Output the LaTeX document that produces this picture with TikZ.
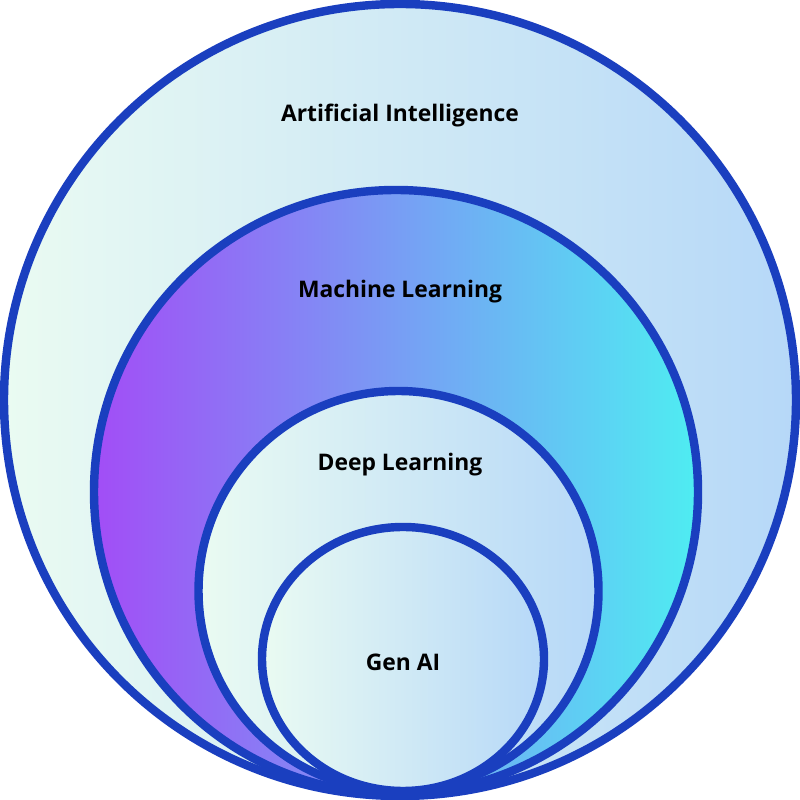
\documentclass[tikz,border=0pt]{standalone}
\usepackage{fontspec}
\usetikzlibrary{shapes.geometric}
\setmainfont{Open Sans}
\definecolor{ring}{HTML}{1A3FBF}
\definecolor{mint}{HTML}{EAFBF2}
\definecolor{lblue}{HTML}{B6D8F8}
\definecolor{mlpurple}{HTML}{A24DF6}
\definecolor{mlcyan}{HTML}{4EEDF2}
\tikzset{
  ringc/.style={ellipse,draw=ring,line width=2.4pt,inner sep=0pt},
  lbl/.style={font=\bfseries\fontsize{6.5pt}{7pt}\selectfont,text=black}
}
\begin{document}
\begin{tikzpicture}
\useasboundingbox (0,0) rectangle (8,8);
\node[ringc,minimum width=7.92cm,minimum height=7.92cm,left color=mint,right color=lblue] (ai) at (4,4) {};
\node[ringc,minimum width=6.04cm,minimum height=6.04cm,left color=mlpurple,right color=mlcyan] (ml) at (3.96,3.08) {};
\node[ringc,minimum width=4.0cm,minimum height=4.0cm,left color=mint,right color=lblue] (dl) at (3.985,2.09) {};
\node[ringc,minimum width=2.82cm,minimum height=2.64cm,left color=mint,right color=lblue] (ga) at (4.03,1.41) {};
\node[lbl] (tai) at (4,6.84) {Artificial Intelligence};
\node[lbl] (tml) at (4,5.08) {Machine Learning};
\node[lbl] (tdl) at (4,3.35) {Deep Learning};
\node[lbl] (tga) at (4.03,1.38) {Gen AI};
\end{tikzpicture}
\end{document}
